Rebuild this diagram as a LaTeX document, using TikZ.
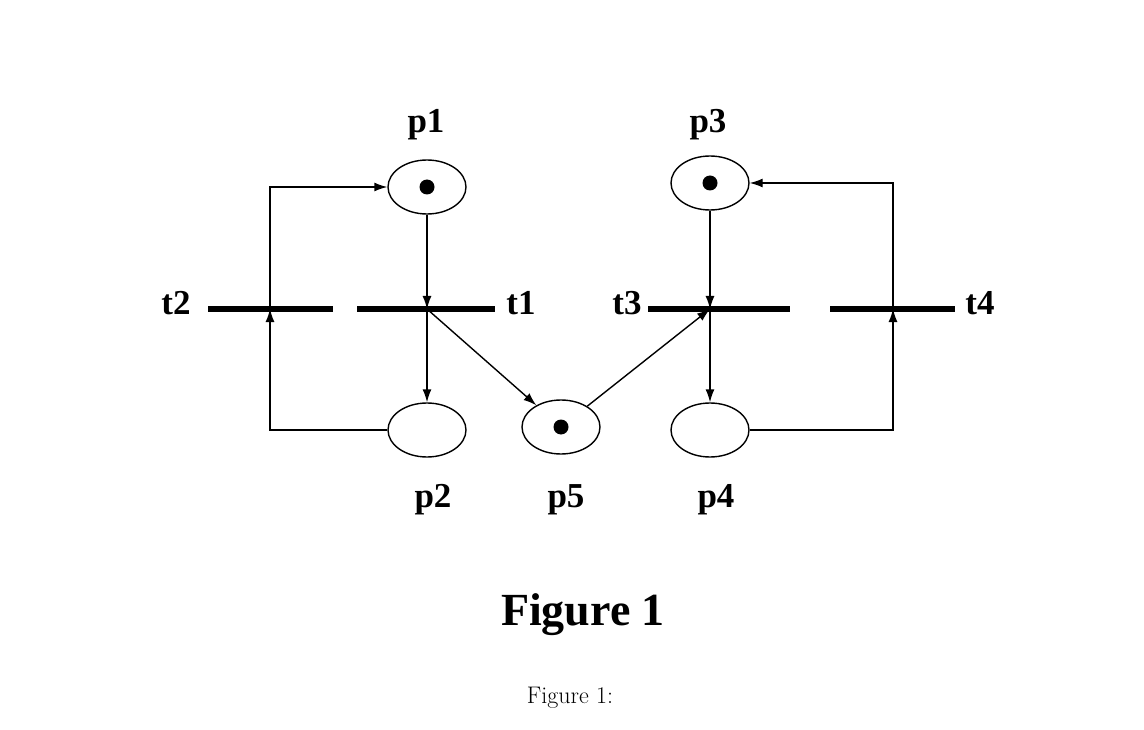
\documentclass[tikz,border=0pt]{standalone}
\usepackage{fontspec}
\setmainfont{Liberation Serif}
\newfontfamily\lm{Latin Modern Roman}
\usetikzlibrary{arrows.meta,shapes.geometric}
\begin{document}
\begin{tikzpicture}[x=1pt,y=-1pt,
 place/.style={draw,line width=1.4pt,ellipse,minimum width=78pt,minimum height=54pt,inner sep=0pt},
 tok/.style={fill,circle,inner sep=0pt,minimum size=15pt},
 lab/.style={font=\fontsize{35}{35}\selectfont\bfseries},
 arr/.style={line width=1.4pt,-{Latex[length=13pt,width=9pt]}},
 bar/.style={line width=5.5pt}]
\useasboundingbox (0,0) rectangle (1144,730);
\node[place] (p1) at (427,187) {}; \node[tok] at (p1) {};
\node[place] (p3) at (710,183) {}; \node[tok] at (p3) {};
\node[place] (p2) at (427,430) {};
\node[place] (p5) at (561,427) {}; \node[tok] at (p5) {};
\node[place] (p4) at (710,430) {};
\draw[bar] (208,309) -- (333,309);
\draw[bar] (357,309) -- (495,309);
\draw[bar] (648,309) -- (790,309);
\draw[bar] (830,309) -- (955,309);
\coordinate (t1) at (427,309); \coordinate (t2) at (270,309);
\coordinate (t3) at (710,309); \coordinate (t4) at (893,309);
\node[lab] at (426,125) {p1};
\node[lab] at (708,125) {p3};
\node[lab] at (176,303) {t2};
\node[lab] at (521,303) {t1};
\node[lab] at (627,303) {t3};
\node[lab] at (980,303) {t4};
\node[lab] at (433,500) {p2};
\node[lab] at (566,500) {p5};
\node[lab] at (716,500) {p4};
\node[font=\fontsize{46}{46}\selectfont\bfseries] at (583,615) {Figure 1};
\node[font=\lm\fontsize{24}{24}\selectfont] at (570,698) {Figure 1:};
\draw[arr] (p1) -- (t1);
\draw[arr] (t1) -- (p2);
\draw[arr] (t1) -- (p5);
\draw[arr] (p5) -- (t3);
\draw[arr] (p3) -- (t3);
\draw[arr] (t3) -- (p4);
\draw[arr] (p2.west) -| (t2);
\draw[arr] (t2) |- (p1.west);
\draw[arr] (p4.east) -| (t4);
\draw[arr] (t4) |- (p3.east);
\end{tikzpicture}
\end{document}
